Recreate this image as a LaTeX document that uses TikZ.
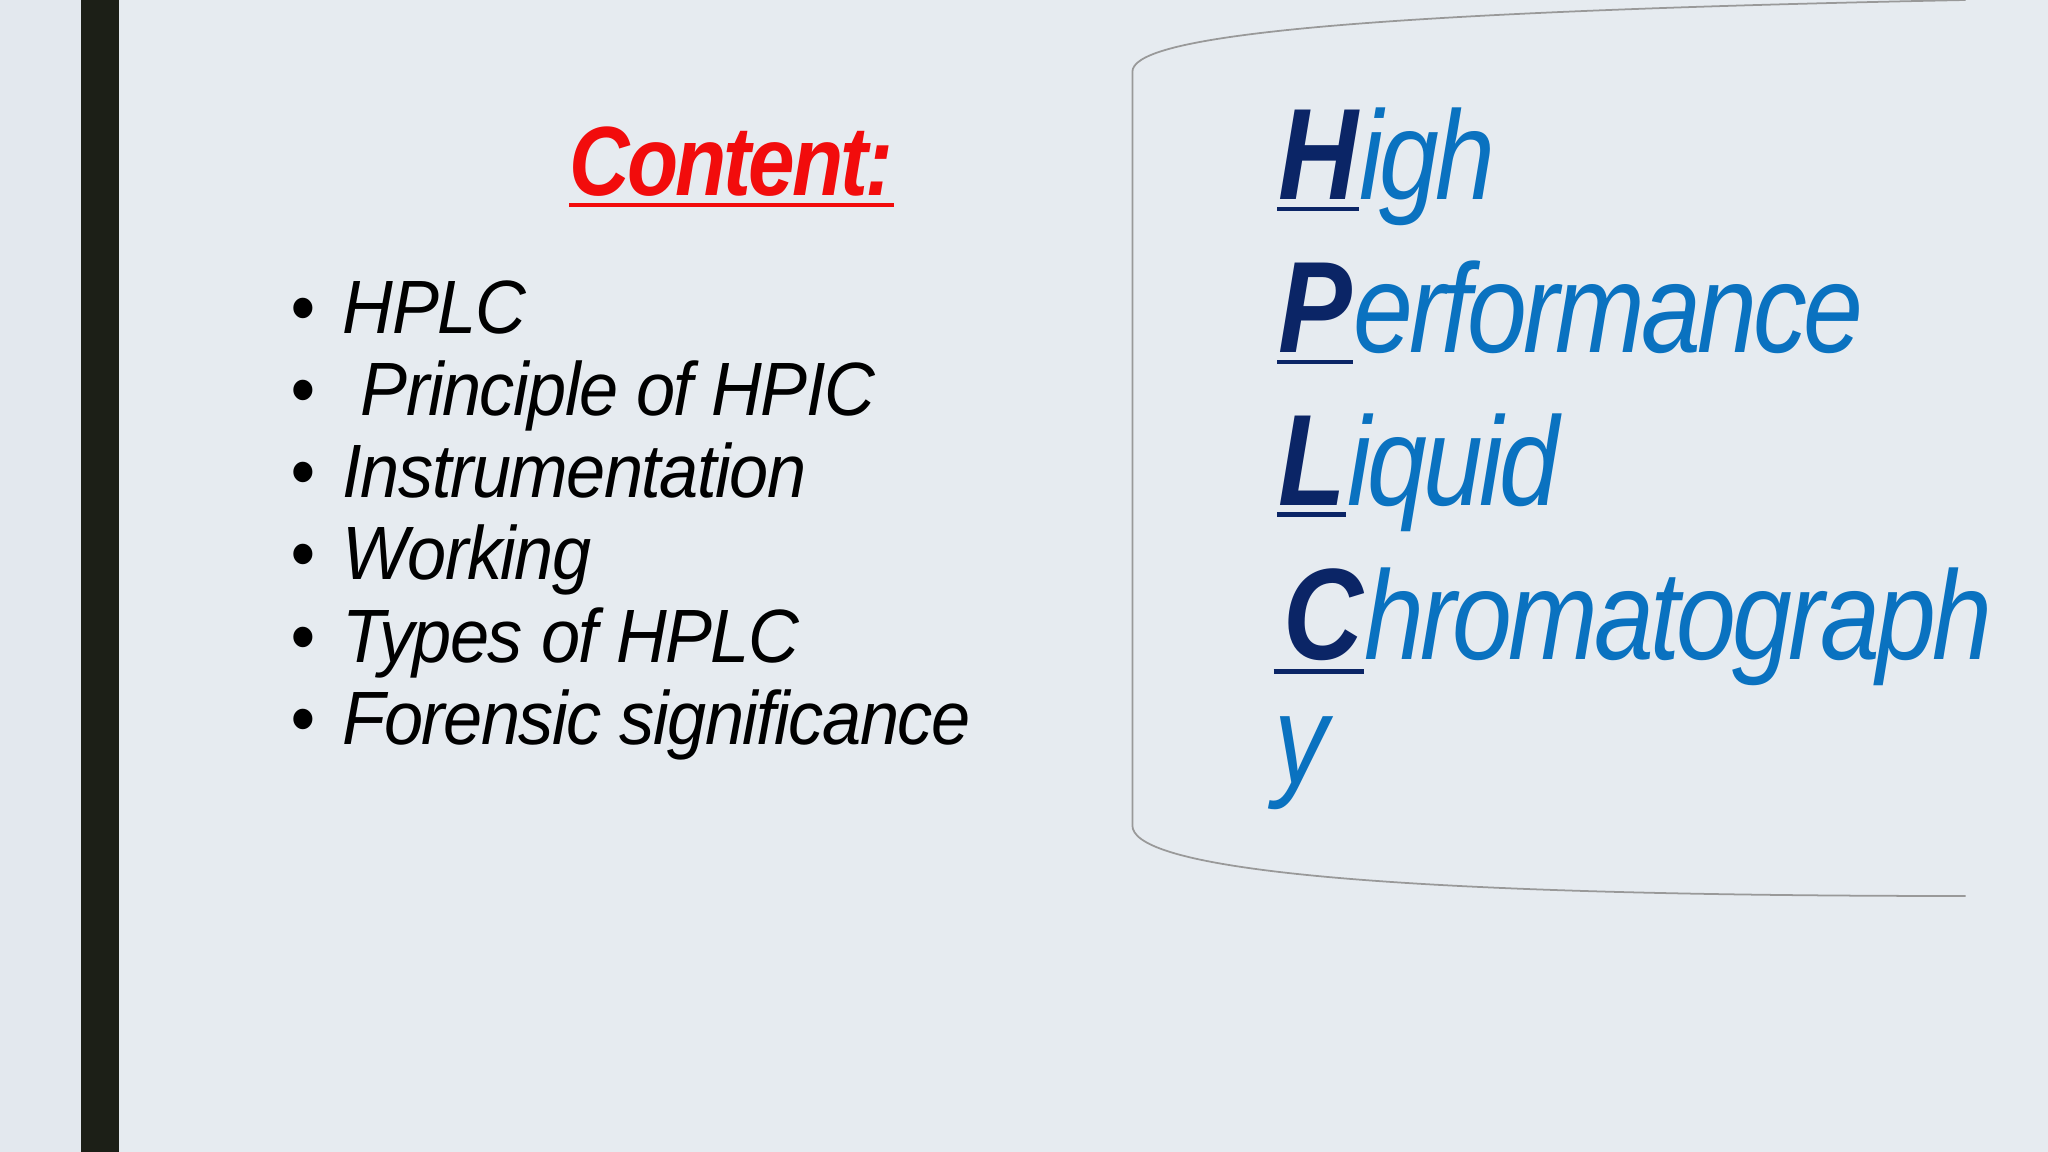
\documentclass[tikz,border=0pt]{standalone}
\usepackage{fontspec}
\setmainfont{Liberation Sans}
\newfontfamily\condA[FakeStretch=0.85,LetterSpace=-3]{Liberation Sans}
\newfontfamily\condB[FakeStretch=0.93,LetterSpace=-2]{Liberation Sans}
\definecolor{bg}{HTML}{E6EBF0}
\definecolor{bgl}{HTML}{E3E8EE}
\definecolor{bar}{HTML}{1C1F17}
\definecolor{navy}{HTML}{0B2566}
\definecolor{lblue}{HTML}{0A72C0}
\definecolor{redc}{HTML}{F20C0C}
\begin{document}
\begin{tikzpicture}[x=0.013061cm,y=-0.013061cm,
  item/.style={anchor=base west,inner sep=0,font=\condB\fontsize{21.5}{22}\selectfont\itshape},
  big/.style={anchor=base west,inner sep=0,font=\condA\fontsize{37}{37}\selectfont\bfseries\itshape,text=navy},
  rest/.style={anchor=base west,inner sep=0,font=\condA\fontsize{36}{36}\selectfont\itshape,text=lblue},
  ul/.style={navy,line width=1.2pt}]
\useasboundingbox (0,0) rectangle (1568,882);
\fill[bg] (0,0) rectangle (1568,882);
\fill[bgl] (0,0) rectangle (62,882);
\fill[bar] (62,0) rectangle (91,882);
% content title
\node[anchor=base,inner sep=0,font=\condA\fontsize{28}{28}\selectfont\bfseries\itshape,text=redc] (ct) at (560,150) {Content:};
\draw[redc,line width=1.3pt] ([yshift=-0.09cm]ct.base west) -- ([yshift=-0.09cm]ct.base east);
% items
\foreach \t [count=\i] in {HPLC,{\ Principle of HPIC},Instrumentation,Working,Types of HPLC,Forensic significance}{
  \node[item] (b\i) at (222,255+63*\i-63) {\textbullet};
  \node[item] (t\i) at (262,255+63*\i-63) {\t};
}
% frame
\draw[gray!80,line width=0.5pt] (1505,0) .. controls (1000,10) and (867,30) .. (867,55) -- (867,632) .. controls (867,660) and (1000,686) .. (1505,686);
% acronym
\node[big] (h) at (978,153) {H};
\node[rest] (h2) at (h.base east) {igh};
\node[big] (p) at (978,270) {P};
\node[rest] (p2) at (p.base east) {erformance};
\node[big] (l) at (978,387) {L};
\node[rest] (l2) at (l.base east) {iquid};
\node[big] (c) at (982,505) {C};
\node[rest] (c2) at (c.base east) {hromatograph};
\node[rest] (y) at (975,600) {y};
\foreach \n in {h,p,l}{\draw[ul] ([yshift=-0.09cm]\n.base west) -- ([yshift=-0.09cm]\n.base east);}
\draw[ul] ([xshift=-0.09cm,yshift=-0.12cm]c.base west) -- ([yshift=-0.12cm]c.base east);
\end{tikzpicture}
\end{document}
